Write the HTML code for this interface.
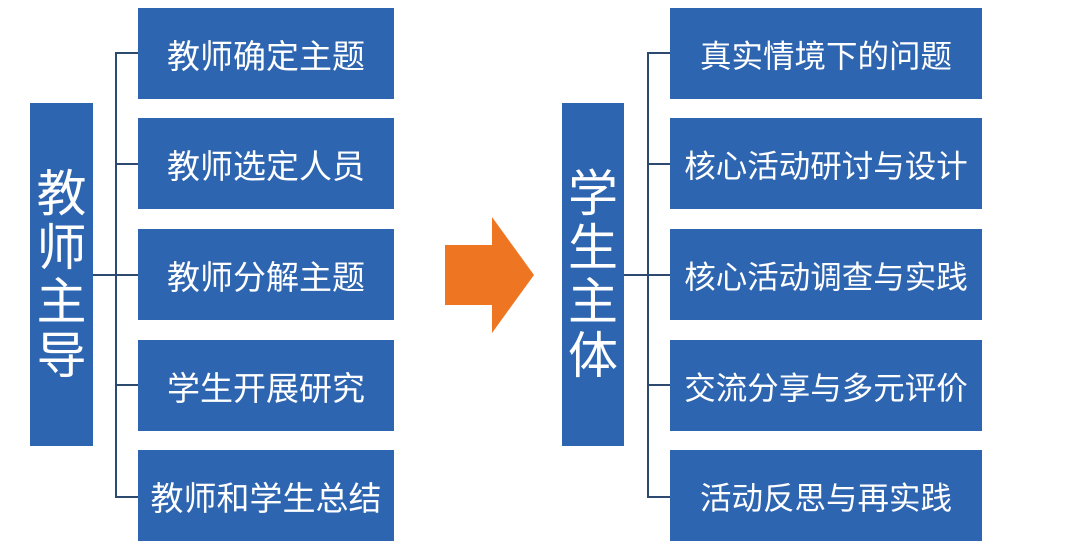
<!DOCTYPE html>
<html><head><meta charset="utf-8"><style>
body{margin:0;width:1080px;height:556px;background:#fff;position:relative;overflow:hidden;font-family:"Liberation Sans","Noto Sans CJK SC",sans-serif;}
.b{position:absolute;background:#2e65b0;color:#fff;display:flex;align-items:center;justify-content:center;white-space:nowrap;}
.l{position:absolute;background:#2c4a70;}
.v{flex-direction:column;font-size:50px;line-height:54px;}
.L{left:138px;width:256px;height:91px;font-size:33px}
.R{left:670px;width:312px;height:91px;font-size:31.5px}
</style></head><body>
<div class="b v" style="left:30px;top:103px;width:63px;height:343px;"><span>教</span><span>师</span><span>主</span><span>导</span></div>
<div class="l" style="left:93px;top:274px;width:23px;height:2px"></div>
<div class="l" style="left:115px;top:52px;width:2px;height:446px"></div>
<div class="l" style="left:115px;top:52px;width:23px;height:2px"></div>
<div class="l" style="left:115px;top:163px;width:23px;height:2px"></div>
<div class="l" style="left:115px;top:274px;width:23px;height:2px"></div>
<div class="l" style="left:115px;top:384px;width:23px;height:2px"></div>
<div class="l" style="left:115px;top:496px;width:23px;height:2px"></div>
<div class="b L" style="top:8px">教师确定主题</div>
<div class="b L" style="top:118px">教师选定人员</div>
<div class="b L" style="top:229px">教师分解主题</div>
<div class="b L" style="top:340px">学生开展研究</div>
<div class="b L" style="top:450px">教师和学生总结</div>
<svg style="position:absolute;left:0;top:0" width="1080" height="556"><polygon points="445,245 492,245 492,217 534,275 492,333 492,305 445,305" fill="#ee7522"/></svg>
<div class="b v" style="left:562px;top:103px;width:62px;height:343px;"><span>学</span><span>生</span><span>主</span><span>体</span></div>
<div class="l" style="left:624px;top:274px;width:24px;height:2px"></div>
<div class="l" style="left:647px;top:52px;width:2px;height:446px"></div>
<div class="l" style="left:647px;top:52px;width:23px;height:2px"></div>
<div class="l" style="left:647px;top:163px;width:23px;height:2px"></div>
<div class="l" style="left:647px;top:274px;width:23px;height:2px"></div>
<div class="l" style="left:647px;top:384px;width:23px;height:2px"></div>
<div class="l" style="left:647px;top:496px;width:23px;height:2px"></div>
<div class="b R" style="top:8px">真实情境下的问题</div>
<div class="b R" style="top:118px">核心活动研讨与设计</div>
<div class="b R" style="top:229px">核心活动调查与实践</div>
<div class="b R" style="top:340px">交流分享与多元评价</div>
<div class="b R" style="top:450px">活动反思与再实践</div>
</body></html>
